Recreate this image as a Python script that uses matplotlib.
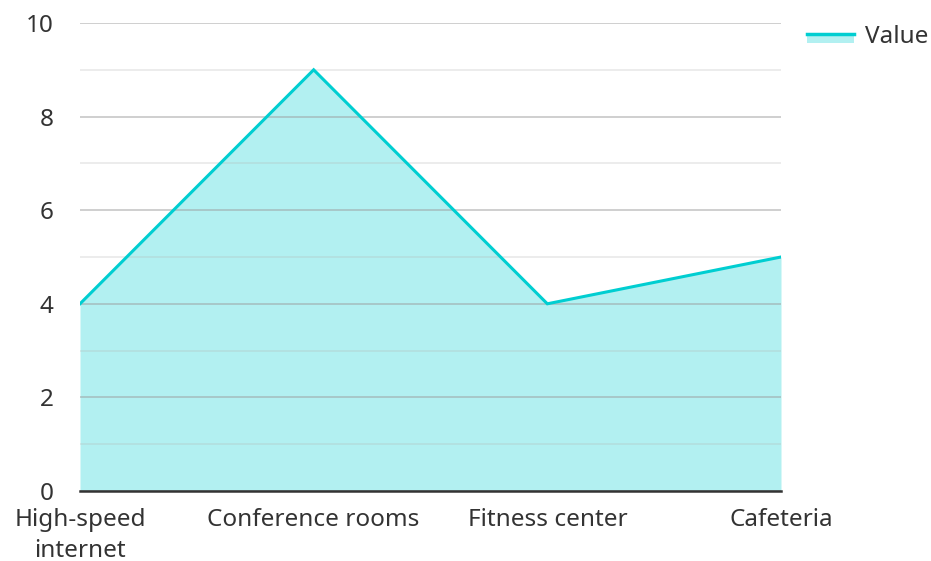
import matplotlib
matplotlib.use("Agg")
import matplotlib.pyplot as plt
from matplotlib.patches import Rectangle
from matplotlib.lines import Line2D
import numpy as np

plt.rcParams['font.family'] = ['Noto Sans', 'DejaVu Sans']

# data
categories = ['High-speed\ninternet', 'Conference rooms', 'Fitness center', 'Cafeteria']
values = [4, 9, 4, 5]
series_name = 'Value'

line_color = '#00CED1'
fill_color = '#B2F0F1'
text_color = '#333333'
fs = 17.5


class AreaHandler:
    # legend key: light patch with the line along its top edge
    def legend_artist(self, legend, orig_handle, fontsize, handlebox):
        x0, y0 = handlebox.xdescent, handlebox.ydescent
        w, h = handlebox.width, handlebox.height
        cy = y0 + h / 2
        rect = Rectangle((x0, cy - 6.0), w, 6.5, facecolor=fill_color, edgecolor='none',
                         transform=handlebox.get_transform())
        ln = Line2D([x0, x0 + w], [cy + 0.5, cy + 0.5], color=line_color, lw=2.5,
                    transform=handlebox.get_transform())
        handlebox.add_artist(rect)
        handlebox.add_artist(ln)
        return rect


fig = plt.figure(figsize=(9.31, 5.61), dpi=100)
ax = fig.add_axes([80 / 931, 1 - 491 / 561, (781 - 80) / 931, (491 - 23) / 561])

x = np.arange(len(categories))
ax.fill_between(x, values, 0, color=fill_color, lw=0, zorder=1)
ax.plot(x, values, color=line_color, lw=2.2, zorder=4, solid_joinstyle='miter')

ax.set_xlim(0, len(categories) - 1)
ax.set_ylim(0, 10)
ax.set_yticks(np.arange(0, 11, 2))
ax.set_yticks(np.arange(1, 10, 2), minor=True)
ax.set_xticks(x)
ax.set_xticklabels(categories, linespacing=1.4)

ax.grid(axis='y', which='major', color='#9a9a9a', alpha=0.55, lw=1.2, zorder=2)
ax.grid(axis='y', which='minor', color='#b5b5b5', alpha=0.3, lw=1.2, zorder=2)
ax.set_axisbelow(False)

for s in ['top', 'right', 'left']:
    ax.spines[s].set_visible(False)
ax.spines['bottom'].set_color(text_color)
ax.spines['bottom'].set_linewidth(1.8)
ax.spines['bottom'].set_zorder(5)

ax.tick_params(axis='both', which='both', length=0, labelsize=fs, colors=text_color)
ax.tick_params(axis='y', pad=19)
ax.tick_params(axis='x', pad=12)

ax.legend([Rectangle((0, 0), 1, 1)], [series_name], handler_map={Rectangle: AreaHandler()},
          loc='upper left', bbox_to_anchor=(807 / 931, 1 - 25 / 561), bbox_transform=fig.transFigure,
          frameon=False, fontsize=fs, borderpad=0, borderaxespad=0,
          handlelength=1.95, handleheight=0.7, handletextpad=0.45,
          labelcolor=text_color)

fig.savefig('out.png', dpi=100)
